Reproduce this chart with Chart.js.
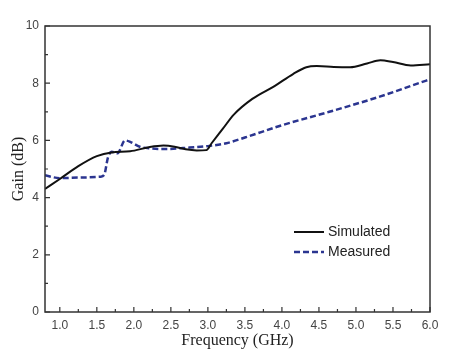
<!DOCTYPE html>
<html>
<head>
<meta charset="utf-8">
<script src="https://cdn.jsdelivr.net/npm/chart.js@4"></script>
<style>
  html, body { margin: 0; padding: 0; background: #fff; }
  #box { width: 474px; height: 362px; }
</style>
</head>
<body>
<div id="box"><canvas id="gainChart"></canvas></div>
<script>
// 数据
const freqSim = [0.8, 1.0, 1.25, 1.5, 1.7, 1.95, 2.2, 2.4, 2.55, 2.7, 2.85, 2.98, 3.05, 3.2, 3.35, 3.6, 3.9, 4.15, 4.33, 4.47, 4.7, 4.92, 5.15, 5.33, 5.5, 5.74, 6.0];
const gainSim = [4.3, 4.65, 5.1, 5.45, 5.58, 5.62, 5.76, 5.82, 5.78, 5.69, 5.65, 5.66, 5.9, 6.4, 6.9, 7.45, 7.9, 8.32, 8.56, 8.6, 8.57, 8.56, 8.69, 8.8, 8.74, 8.62, 8.66];

const freqMeas = [0.8, 1.0, 1.25, 1.55, 1.6, 1.65, 1.7, 1.78, 1.88, 1.95, 2.08, 2.22, 2.45, 2.75, 3.0, 3.25, 3.5, 4.0, 4.64, 5.32, 5.95, 6.0];
const gainMeas = [4.78, 4.68, 4.70, 4.73, 4.8, 5.4, 5.6, 5.55, 6.0, 5.95, 5.78, 5.72, 5.70, 5.75, 5.8, 5.9, 6.1, 6.53, 7.0, 7.53, 8.09, 8.13];

const xMajor = [1.0, 1.5, 2.0, 2.5, 3.0, 3.5, 4.0, 4.5, 5.0, 5.5, 6.0];
const xMinor = [1.25, 1.75, 2.25, 2.75, 3.25, 3.75, 4.25, 4.75, 5.25, 5.75];
const yMajor = [0, 2, 4, 6, 8, 10];
const yMinor = [1, 3, 5, 7, 9];

function toPoints(xs, ys) {
    return xs.map((x, i) => ({ x: x, y: ys[i] }));
}

// 坐标框、内向刻度和图例
const framePlugin = {
    id: 'frame',
    afterDraw(chart) {
        const ctx = chart.ctx;
        const a = chart.chartArea;
        const xs = chart.scales.x, ys = chart.scales.y;
        ctx.save();
        ctx.strokeStyle = '#333';
        ctx.lineWidth = 1.5;
        ctx.strokeRect(a.left, a.top, a.right - a.left, a.bottom - a.top);
        ctx.lineWidth = 1.2;
        ctx.beginPath();
        xMajor.forEach(v => { const p = xs.getPixelForValue(v); ctx.moveTo(p, a.bottom); ctx.lineTo(p, a.bottom - 5); });
        xMinor.forEach(v => { const p = xs.getPixelForValue(v); ctx.moveTo(p, a.bottom); ctx.lineTo(p, a.bottom - 3); });
        yMajor.forEach(v => { const p = ys.getPixelForValue(v); ctx.moveTo(a.left, p); ctx.lineTo(a.left + 5, p); });
        yMinor.forEach(v => { const p = ys.getPixelForValue(v); ctx.moveTo(a.left, p); ctx.lineTo(a.left + 3, p); });
        ctx.stroke();

        // 图例
        const lx = 294, ly = 232;
        chart.data.datasets.forEach((ds, i) => {
            const y = ly + i * 20;
            ctx.strokeStyle = ds.borderColor;
            ctx.lineWidth = ds.borderWidth;
            ctx.setLineDash(ds.borderDash || []);
            ctx.beginPath();
            ctx.moveTo(lx, y);
            ctx.lineTo(lx + 30, y);
            ctx.stroke();
            ctx.setLineDash([]);
            ctx.fillStyle = '#222';
            ctx.font = '14px "Liberation Sans", Arial, sans-serif';
            ctx.textBaseline = 'middle';
            ctx.fillText(ds.label, lx + 34, y);
        });
        ctx.restore();
    }
};

const ctx = document.getElementById('gainChart').getContext('2d');

new Chart(ctx, {
    type: 'line',
    data: {
        datasets: [{
            label: 'Simulated',
            data: toPoints(freqSim, gainSim),
            borderColor: '#111',
            borderWidth: 2,
            pointRadius: 0,
            cubicInterpolationMode: 'monotone',
            fill: false
        }, {
            label: 'Measured',
            data: toPoints(freqMeas, gainMeas),
            borderColor: '#2b3590',
            borderWidth: 2.5,
            borderDash: [6, 3],
            pointRadius: 0,
            cubicInterpolationMode: 'monotone',
            fill: false
        }]
    },
    options: {
        responsive: true,
        maintainAspectRatio: false,
        animation: false,
        layout: { padding: { top: 26, right: 44, left: 0, bottom: 0 } },
        plugins: {
            legend: { display: false },
            tooltip: { enabled: false }
        },
        scales: {
            x: {
                type: 'linear',
                min: 0.8,
                max: 6.0,
                afterBuildTicks: s => { s.ticks = xMajor.map(v => ({ value: v })); },
                afterFit: s => { s.height = 50; },
                grid: { display: false, drawTicks: false },
                border: { display: false },
                ticks: {
                    padding: 6,
                    color: '#444',
                    font: { family: '"Liberation Sans", Arial, sans-serif', size: 12 },
                    callback: v => v.toFixed(1)
                },
                title: {
                    display: true,
                    text: 'Frequency (GHz)',
                    color: '#222',
                    font: { family: '"Liberation Serif", "Times New Roman", serif', size: 16 },
                    padding: { top: 0, bottom: 12 }
                }
            },
            y: {
                min: 0,
                max: 10,
                afterBuildTicks: s => { s.ticks = yMajor.map(v => ({ value: v })); },
                afterFit: s => { s.width = 45; },
                grid: { display: false, drawTicks: false },
                border: { display: false },
                ticks: {
                    padding: 6,
                    color: '#444',
                    font: { family: '"Liberation Sans", Arial, sans-serif', size: 12 }
                },
                title: {
                    display: true,
                    text: 'Gain (dB)',
                    color: '#222',
                    font: { family: '"Liberation Serif", "Times New Roman", serif', size: 16 },
                    padding: { top: 9, bottom: 0 }
                }
            }
        }
    },
    plugins: [framePlugin]
});
</script>
</body>
</html>
